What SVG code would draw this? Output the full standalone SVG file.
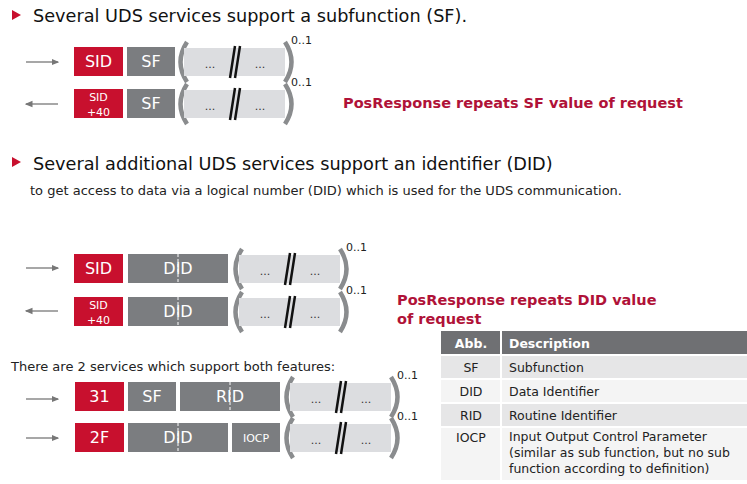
<svg xmlns="http://www.w3.org/2000/svg" width="747" height="484" viewBox="0 0 747 484">
<defs>
<style>
text{font-family:"DejaVu Sans","Open Sans",sans-serif}
.red{fill:#c8102e}.gray{fill:#7b7d80}.light{fill:#dcdde0}
.w{fill:#fff;font-size:16px;text-anchor:middle}
.ws{fill:#fff;font-size:11px;text-anchor:middle}
.dots{fill:#333;font-size:11px;text-anchor:middle}
.par{fill:none;stroke:#8a8c8e;stroke-width:4.5}
.sl{stroke:#111;stroke-width:2.5}
.arr{stroke:#777;stroke-width:1.3;fill:none}
.mul{font-size:11px;fill:#222}
.pos{fill:#b01238;font-size:14.5px;font-weight:bold}
.dash{stroke:#fff;stroke-width:1;stroke-dasharray:3,2}
.th{fill:#fff;font-size:12.5px;font-weight:bold}
.td{fill:#222;font-size:12.5px}
</style>
<marker id="ah" markerWidth="6" markerHeight="6" refX="5" refY="3" orient="auto"><path d="M0,0.5L6,3L0,5.5z" fill="#777"/></marker>
<g id="tail">
<path class="par" d="M9,-5Q-4,15 9,35"/>
<rect x="6" y="1" width="101" height="28" class="light"/>
<text x="32" y="21" class="dots">...</text><text x="82" y="21" class="dots">...</text>
<line x1="52" y1="31" x2="57" y2="-1" class="sl"/><line x1="57" y1="31" x2="62" y2="-1" class="sl"/>
<path class="par" d="M107,-5Q120,15 107,35"/>
<text x="113" y="-3" class="mul">0..1</text>
</g>
</defs>
<g id="headers">
<path d="M12,10L21,15L12,20z" fill="#c8102e"/>
<text x="33" y="22" font-size="17.7" fill="#111">Several UDS services support a subfunction (SF).</text>
<path d="M12,157L21,162L12,167z" fill="#c8102e"/>
<text x="33" y="170" font-size="17.7" fill="#111">Several additional UDS services support an identifier (DID)</text>
<text x="30" y="195" font-size="13" fill="#222">to get access to data via a logical number (DID) which is used for the UDS communication.</text>
<text x="11" y="371" font-size="13" fill="#222">There are 2 services which support both features:</text>
<text x="343" y="108" class="pos">PosResponse repeats SF value of request</text>
<text x="397" y="305" class="pos">PosResponse repeats DID value</text>
<text x="397" y="324" class="pos">of request</text>
</g>
<g id="connectors">
<line x1="26" y1="62" x2="58" y2="62" class="arr" marker-end="url(#ah)"/>
<line x1="58" y1="104" x2="26" y2="104" class="arr" marker-end="url(#ah)"/>
<line x1="26" y1="268" x2="58" y2="268" class="arr" marker-end="url(#ah)"/>
<line x1="58" y1="311" x2="26" y2="311" class="arr" marker-end="url(#ah)"/>
<line x1="26" y1="399" x2="58" y2="399" class="arr" marker-end="url(#ah)"/>
<line x1="26" y1="438" x2="58" y2="438" class="arr" marker-end="url(#ah)"/>
</g>
<g id="row1">
<rect x="74" y="47" width="49" height="29" class="red"/><text x="98.5" y="67" class="w">SID</text>
<rect x="127" y="47" width="48" height="29" class="gray"/><text x="151" y="67" class="w">SF</text>
<use href="#tail" x="178" y="47"/>
</g>
<g id="row2">
<rect x="74" y="89" width="49" height="29" class="red"/><text x="98.5" y="101" class="ws">SID</text><text x="98.5" y="116" class="ws" font-size="12.5">+40</text>
<rect x="127" y="89" width="48" height="29" class="gray"/><text x="151" y="109" class="w">SF</text>
<use href="#tail" x="178" y="89"/>
</g>
<g id="row3">
<rect x="74" y="254" width="49" height="29" class="red"/><text x="98.5" y="274" class="w">SID</text>
<rect x="128" y="254" width="100" height="29" class="gray"/><line x1="178" y1="254" x2="178" y2="283" class="dash"/><text x="178" y="274" class="w">DID</text>
<use href="#tail" x="233" y="254"/>
</g>
<g id="row4">
<rect x="74" y="297" width="49" height="29" class="red"/><text x="98.5" y="309" class="ws">SID</text><text x="98.5" y="324" class="ws" font-size="12.5">+40</text>
<rect x="128" y="297" width="100" height="29" class="gray"/><line x1="178" y1="297" x2="178" y2="326" class="dash"/><text x="178" y="317" class="w">DID</text>
<use href="#tail" x="233" y="297"/>
</g>
<g id="row5">
<rect x="75" y="382" width="49" height="29" class="red"/><text x="99.5" y="402" class="w">31</text>
<rect x="128" y="382" width="48" height="29" class="gray"/><text x="152" y="402" class="w">SF</text>
<rect x="180" y="382" width="100" height="29" class="gray"/><line x1="230" y1="382" x2="230" y2="411" class="dash"/><text x="230" y="402" class="w">RID</text>
<use href="#tail" x="284" y="382"/>
</g>
<g id="row6">
<rect x="75" y="423" width="49" height="29" class="red"/><text x="99.5" y="443" class="w">2F</text>
<rect x="128" y="423" width="100" height="29" class="gray"/><line x1="178" y1="423" x2="178" y2="452" class="dash"/><text x="178" y="443" class="w">DID</text>
<rect x="232" y="423" width="48" height="29" class="gray"/><text x="256" y="442" class="ws">IOCP</text>
<use href="#tail" x="284" y="423"/>
</g>
<g id="table">
<rect x="441" y="331" width="306" height="24" fill="#6f7073"/>
<rect x="441" y="355" width="306" height="24" fill="#e6e6e7"/>
<rect x="441" y="379" width="306" height="24" fill="#f4f4f4"/>
<rect x="441" y="403" width="306" height="24" fill="#e6e6e7"/>
<rect x="441" y="427" width="306" height="53" fill="#f4f4f4"/>
<line x1="501" y1="331" x2="501" y2="480" stroke="#fff" stroke-width="2"/>
<g stroke="#fff" stroke-width="2"><line x1="441" y1="355" x2="747" y2="355"/><line x1="441" y1="379" x2="747" y2="379"/><line x1="441" y1="403" x2="747" y2="403"/><line x1="441" y1="427" x2="747" y2="427"/></g>
<text x="471" y="348" class="th" text-anchor="middle">Abb.</text><text x="509" y="348" class="th">Description</text>
<text x="471" y="372" class="td" text-anchor="middle">SF</text><text x="509" y="372" class="td">Subfunction</text>
<text x="471" y="396" class="td" text-anchor="middle">DID</text><text x="509" y="396" class="td">Data Identifier</text>
<text x="471" y="420" class="td" text-anchor="middle">RID</text><text x="509" y="420" class="td">Routine Identifier</text>
<text x="471" y="442" class="td" text-anchor="middle">IOCP</text>
<text x="509" y="441" class="td">Input Output Control Parameter</text>
<text x="509" y="457" class="td">(similar as sub function, but no sub</text>
<text x="509" y="473" class="td">function according to definition)</text>
</g>
</svg>
